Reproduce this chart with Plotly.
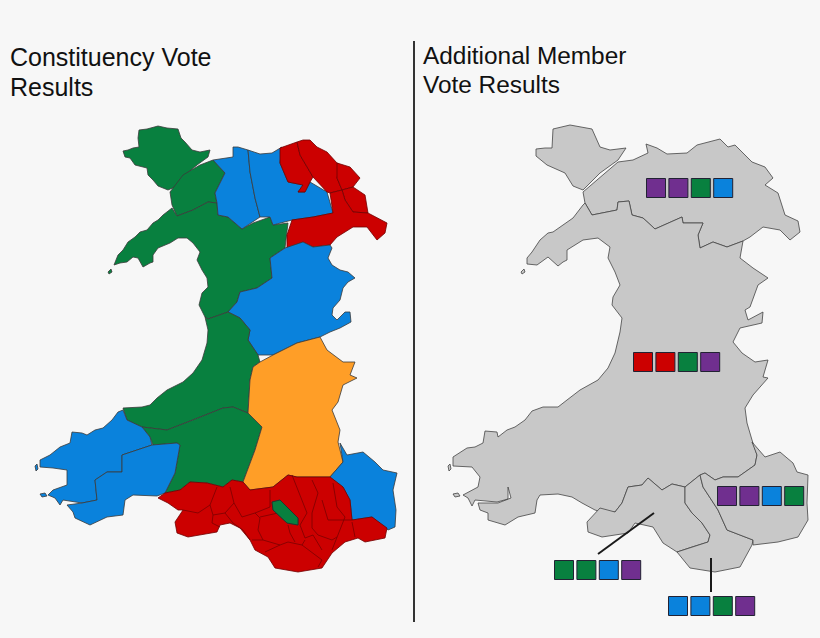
import plotly.graph_objects as go

# Colours
GREEN = "#08803f"
BLUE = "#0a82dc"
RED = "#cc0000"
ORANGE = "#ff9e27"
PURPLE = "#702f8f"
GREY = "#c8c8c8"
BACK = "#f7f7f7"

# Constituency map outlines
anglesey = [(139,130),(147,129),(158,126),(167,128),(178,129),(181,138),(185,142),(192,150),(200,152),(210,150),(208,157),(197,165),(185,175),(175,187),(168,190),(158,186),(153,180),(148,175),(147,168),(135,165),(130,158),(125,157),(123,151),(128,150),(133,148),(139,147),(138,138)]
arfon = [(170,192),(183,175),(200,165),(213,160),(225,173),(215,193),(217,203),(208,202),(193,210),(177,216),(172,205)]
dwyfor = [(177,216),(193,210),(208,202),(217,203),(218,215),(228,217),(242,229),(253,223),(270,217),(273,225),(288,223),(285,248),(270,258),(272,278),(257,288),(240,292),(237,302),(228,312),(208,319),(205,317),(199,305),(202,293),(208,287),(207,278),(202,270),(197,260),(200,252),(193,243),(187,238),(178,238),(170,243),(158,248),(153,255),(153,262),(150,263),(143,267),(138,258),(133,257),(127,262),(120,263),(114,265),(118,255),(123,250),(128,242),(135,237),(140,232),(147,230),(153,223),(158,220),(163,215),(172,208)]
aberconwy = [(213,160),(233,157),(233,147),(238,147),(248,150),(250,172),(255,198),(260,217),(242,229),(228,217),(218,215),(217,203),(215,193),(225,173)]
clwyd_west = [(248,150),(260,154),(272,153),(282,147),(280,163),(288,182),(303,185),(298,192),(305,192),(310,182),(327,192),(333,213),(313,217),(292,220),(273,225),(270,217),(260,217),(255,198),(250,172)]
vale_clwyd = [(280,148),(297,142),(300,155),(313,177),(310,182),(305,192),(298,192),(303,185),(288,182),(280,163)]
delyn = [(297,142),(303,140),(310,140),(317,147),(327,152),(337,163),(340,165),(337,178),(342,190),(330,193),(327,192),(313,177),(300,155)]
alyn = [(337,163),(350,167),(360,178),(353,187),(342,190),(337,178)]
wrexham = [(353,187),(365,195),(368,213),(353,212),(345,200),(342,190)]
clwyd_south = [(330,193),(342,190),(345,200),(353,212),(368,213),(387,223),(385,233),(377,240),(367,227),(353,227),(337,237),(330,245),(313,247),(303,242),(287,248),(287,235),(292,220),(313,217),(333,213)]
montgomery = [(285,248),(303,242),(313,247),(330,245),(332,248),(328,258),(332,265),(340,270),(348,272),(355,278),(348,282),(343,288),(340,300),(333,308),(332,315),(337,320),(345,312),(350,312),(351,322),(340,328),(330,332),(320,337),(297,343),(273,355),(258,355),(248,340),(250,330),(240,318),(228,312),(237,302),(240,292),(257,288),(272,278),(270,258)]
ceredigion = [(205,317),(208,319),(228,312),(240,318),(250,330),(248,340),(258,355),(260,362),(253,367),(250,380),(248,413),(233,407),(223,408),(193,420),(167,430),(142,427),(127,420),(123,408),(142,407),(150,405),(157,398),(167,390),(183,382),(193,373),(202,360),(207,343),(208,330)]
carm_east = [(142,427),(167,430),(193,420),(223,408),(233,407),(248,413),(262,427),(255,450),(243,482),(232,480),(223,487),(207,483),(190,482),(180,490),(165,493),(175,473),(180,445),(177,443),(153,445),(150,437)]
brecon = [(260,362),(273,355),(297,343),(320,337),(327,350),(343,362),(355,362),(350,375),(357,378),(343,385),(338,402),(332,410),(340,430),(338,442),(343,462),(330,477),(310,477),(297,477),(288,475),(273,487),(250,490),(243,482),(255,450),(262,427),(248,413),(250,380),(253,367)]
preseli = [(123,410),(127,420),(142,427),(150,437),(152,445),(122,455),(122,472),(107,472),(95,480),(97,500),(82,503),(63,500),(60,505),(55,498),(48,495),(53,490),(67,485),(67,470),(53,468),(40,467),(40,460),(50,455),(60,447),(70,443),(72,432),(82,433),(87,435),(95,430),(103,428),(112,420),(118,412)]
carm_west = [(152,445),(177,443),(180,445),(175,473),(165,493),(157,496),(133,495),(125,500),(123,515),(107,517),(90,525),(75,518),(73,512),(67,505),(82,503),(97,500),(95,480),(107,472),(122,472),(122,455)]
monmouth = [(340,443),(347,455),(363,452),(375,462),(383,470),(397,473),(393,490),(396,510),(395,527),(388,530),(372,517),(352,520),(350,500),(343,487),(330,477),(343,462)]
south_wales = [(158,498),(165,493),(180,490),(190,482),(207,483),(223,487),(232,480),(243,482),(250,490),(273,487),(288,475),(297,477),(310,477),(330,477),(343,487),(350,500),(352,520),(372,517),(387,528),(385,538),(365,542),(358,538),(345,542),(332,553),(322,568),(298,572),(275,568),(268,557),(255,550),(250,540),(240,528),(230,523),(220,525),(217,532),(188,537),(177,533),(175,522),(183,510),(178,510),(168,503)]
rhondda = [(272,502),(280,500),(298,518),(298,525),(287,523),(273,510)]
bardsey = [(108,272),(111,269),(112,272),(109,274)]
skomer = [(35,466),(37,464),(38,469),(36,471)]
caldey = [(40,494),(45,493),(47,496),(42,497)]

# Borders inside the red block in the south
south_borders = [
    [(183,510),(198,513),(210,505),(217,487)],
    [(210,505),(213,515),(212,523),(220,527)],
    [(213,515),(225,513),(234,503),(230,487)],
    [(234,503),(242,517),(255,513),(270,507),(270,490)],
    [(225,513),(233,523),(243,530),(250,540)],
    [(255,513),(260,518),(258,530),(263,540),(252,540)],
    [(260,517),(278,513)],
    [(263,540),(280,545),(288,542),(302,545),(305,540)],
    [(265,552),(280,545)],
    [(288,525),(290,533),(295,542)],
    [(300,525),(305,538),(313,535),(322,550)],
    [(302,545),(322,560),(318,567)],
    [(292,475),(298,490),(307,513),(300,525)],
    [(312,480),(318,493),(312,513),(312,528),(318,535),(332,540),(337,537)],
    [(322,500),(328,520),(352,520)],
    [(333,483),(337,507),(345,517),(337,537),(332,550)],
    [(352,522),(355,537)],
]

# Additional member map outlines
am_anglesey = [(553,129),(570,125),(592,129),(600,147),(610,150),(626,148),(618,160),(600,173),(583,190),(573,186),(565,173),(547,165),(536,156),(536,149),(545,148),(552,148)]
am_north = [(583,192),(600,177),(618,162),(633,160),(648,153),(646,144),(657,148),(667,154),(687,153),(697,145),(720,139),(728,147),(735,145),(752,162),(765,167),(773,178),(765,185),(778,193),(785,215),(798,221),(800,232),(790,240),(780,230),(763,227),(750,237),(743,241),(727,247),(713,242),(700,248),(698,235),(703,223),(683,223),(682,217),(655,229),(643,218),(632,215),(629,201),(618,202),(617,210),(592,215),(585,203)]
am_mid = [(583,205),(585,203),(592,215),(617,210),(618,202),(629,201),(632,215),(643,218),(655,229),(682,217),(683,223),(703,223),(698,235),(700,248),(713,242),(727,247),(743,241),(740,258),(753,268),(768,278),(758,285),(750,307),(745,310),(748,320),(763,312),(762,323),(740,328),(733,342),(742,353),(755,362),(768,360),(763,377),(768,378),(753,395),(745,408),(747,423),(752,440),(757,455),(755,465),(738,477),(723,477),(715,480),(705,473),(700,475),(685,487),(672,484),(662,490),(648,478),(642,485),(628,487),(622,503),(615,512),(605,513),(595,510),(582,503),(572,497),(558,494),(540,495),(537,500),(535,513),(518,517),(505,525),(488,520),(488,513),(480,510),(478,503),(498,503),(511,498),(508,487),(508,499),(497,502),(475,500),(472,506),(468,498),(463,495),(478,487),(480,477),(472,467),(453,466),(453,457),(467,448),(475,447),(483,443),(485,431),(497,432),(498,437),(507,430),(515,427),(525,420),(532,411),(543,407),(558,407),(567,400),(580,390),(598,380),(608,368),(615,353),(618,340),(620,332),(622,318),(612,305),(613,297),(620,285),(615,272),(608,258),(610,247),(598,238),(583,240),(567,250),(567,260),(563,262),(558,266),(548,257),(537,265),(527,264),(527,258),(532,252),(540,240),(548,233),(553,232),(573,218)]
am_swwest = [(600,508),(615,512),(622,503),(628,487),(642,485),(648,478),(662,490),(672,484),(685,487),(685,503),(692,513),(702,523),(710,535),(708,542),(692,547),(677,552),(663,543),(653,527),(635,523),(628,533),(602,537),(588,532),(587,522)]
am_central = [(685,487),(700,475),(703,487),(718,510),(727,530),(753,540),(752,545),(740,567),(715,572),(690,568),(677,552),(692,547),(708,542),(710,535),(702,523),(692,513),(685,503)]
am_east = [(700,475),(705,473),(715,480),(723,477),(738,477),(755,465),(757,455),(752,442),(765,457),(780,452),(793,463),(797,472),(808,475),(807,503),(808,520),(798,537),(778,542),(753,545),(753,540),(727,530),(718,510),(703,487)]
am_bardsey = [(521,272),(524,269),(525,272),(522,274)]
am_skomer = [(448,466),(450,464),(451,469),(449,471)]
am_caldey = [(453,494),(458,493),(460,496),(455,497)]

# Seats won on the regional list, left to right
north_seats = [PURPLE, PURPLE, GREEN, BLUE]
mid_seats = [RED, RED, GREEN, PURPLE]
east_seats = [PURPLE, PURPLE, BLUE, GREEN]
swwest_seats = [GREEN, GREEN, BLUE, PURPLE]
central_seats = [BLUE, BLUE, GREEN, PURPLE]

constituencies = [
    (anglesey, GREEN), (arfon, GREEN), (dwyfor, GREEN), (aberconwy, BLUE),
    (clwyd_west, BLUE), (vale_clwyd, RED), (delyn, RED), (alyn, RED),
    (wrexham, RED), (clwyd_south, RED), (montgomery, BLUE), (ceredigion, GREEN),
    (carm_east, GREEN), (brecon, ORANGE), (preseli, BLUE), (carm_west, BLUE),
    (monmouth, BLUE), (south_wales, RED), (rhondda, GREEN), (bardsey, GREEN),
    (skomer, BLUE), (caldey, BLUE),
]
am_regions = [am_anglesey, am_north, am_mid, am_swwest, am_central, am_east, am_bardsey, am_skomer, am_caldey]

fig = go.Figure()


def add_region(points, colour, edge, width=0.8):
    xs = [p[0] for p in points] + [points[0][0]]
    ys = [p[1] for p in points] + [points[0][1]]
    fig.add_trace(go.Scatter(x=xs, y=ys, mode="lines", fill="toself", fillcolor=colour,
                             line=dict(color=edge, width=width), hoverinfo="skip"))


def add_line(points, colour, width):
    fig.add_trace(go.Scatter(x=[p[0] for p in points], y=[p[1] for p in points], mode="lines",
                             line=dict(color=colour, width=width), hoverinfo="skip"))


def add_seats(colours, left, middle):
    # one row of party squares, 22.4 px apart
    fig.add_trace(go.Scatter(x=[left + 10 + i * 22.4 for i in range(len(colours))],
                             y=[middle] * len(colours), mode="markers", hoverinfo="skip",
                             marker=dict(symbol="square", size=19, color=colours,
                                         line=dict(color="#222233", width=1))))


for outline, colour in constituencies:
    add_region(outline, colour, "#3a3a3a" if colour != RED else "#700000")
for border in south_borders:
    add_line(border, "#7a0000", 0.8)
add_region(rhondda, GREEN, "#2a2a2a")

for outline in am_regions:
    add_region(outline, GREY, "#444444")

add_line([(654, 513), (598, 554)], "#1a1a1a", 2)
add_line([(711, 558), (711, 592)], "#1a1a1a", 2)
add_line([(414, 41), (414, 622)], "#333333", 2)

add_seats(north_seats, 646, 188)
add_seats(mid_seats, 633, 362)
add_seats(east_seats, 717, 496)
add_seats(swwest_seats, 554, 570)
add_seats(central_seats, 668, 606)

for text, x, y, size in [("Constituency Vote", 8, 57, 25), ("Results", 8, 87, 25),
                         ("Additional Member", 421, 55, 24.4), ("Vote Results", 421, 84, 24.4)]:
    fig.add_annotation(text=text, x=x, y=y, xref="x", yref="y", xanchor="left", yanchor="middle",
                       showarrow=False, font=dict(family="Liberation Sans", size=size, color="#111111"))

fig.update_xaxes(range=[0, 820], visible=False, fixedrange=True)
fig.update_yaxes(range=[638, 0], visible=False, fixedrange=True)
fig.update_layout(width=820, height=638, margin=dict(l=0, r=0, t=0, b=0), showlegend=False,
                  paper_bgcolor=BACK, plot_bgcolor=BACK)

fig.write_html("out.html", config={"displayModeBar": False},
               post_script="document.body.style.margin='0';document.body.style.background='#f7f7f7';")
